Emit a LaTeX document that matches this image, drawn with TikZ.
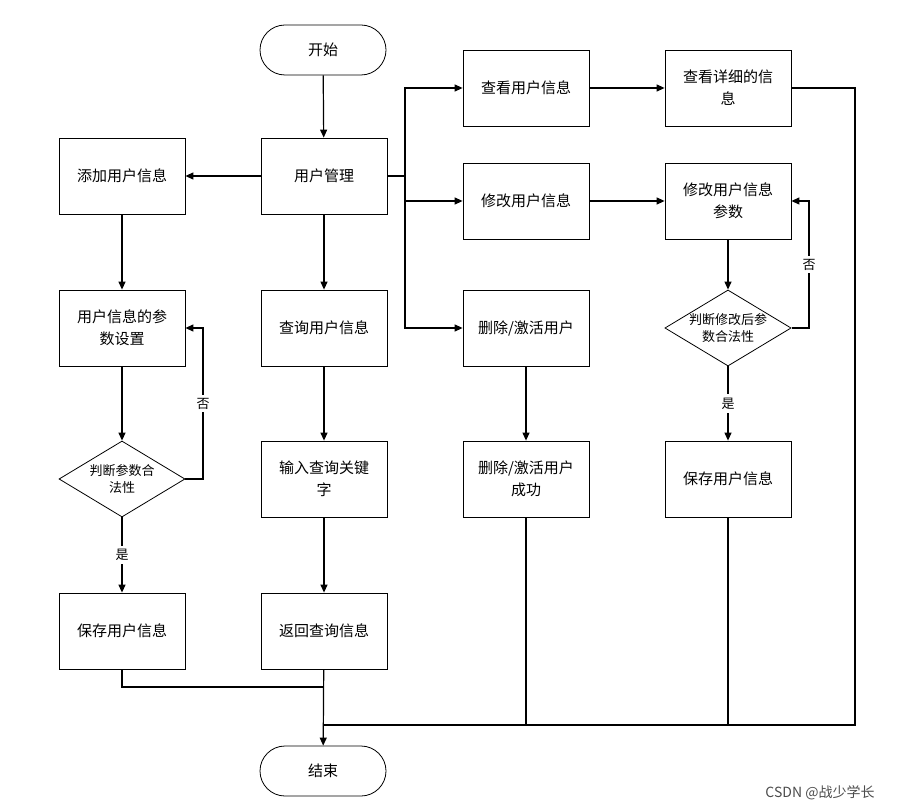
\documentclass[tikz,border=0pt]{standalone}
\usepackage{fontspec}
\setmainfont{Noto Sans CJK SC}
\usetikzlibrary{shapes.geometric,arrows.meta}
\begin{document}
\begin{tikzpicture}[x=1pt,y=-1pt,
  box/.style={draw,line width=0.8pt,minimum width=126pt,minimum height=76pt,align=center,font=\fontsize{15}{22}\selectfont},
  term/.style={draw,line width=0.8pt,rounded corners=25pt,minimum width=126pt,minimum height=50pt,font=\fontsize{15}{22}\selectfont},
  dia/.style={draw,line width=0.8pt,diamond,aspect=1.66,minimum width=126pt,minimum height=76pt,inner sep=0pt,align=center,font=\fontsize{13}{17}\selectfont},
  ln/.style={line width=1.2pt},
  ar/.style={ln,-{Triangle[length=8pt,width=7pt]}},
  lab/.style={font=\fontsize{13}{15}\selectfont}]
\useasboundingbox (0,0) rectangle (899,810);
\node[term] (start) at (323,50) {开始};
\node[box] (um) at (324,176) {用户管理};
\node[box] (add) at (122,176) {添加用户信息};
\node[box] (param) at (122,328) {用户信息的参\\数设置};
\node[dia] (d1) at (122,479) {判断参数合\\法性};
\node[box] (saveL) at (122,631) {保存用户信息};
\node[box] (query) at (324,328) {查询用户信息};
\node[box] (input) at (324,479) {输入查询关键\\字};
\node[box] (ret) at (324,631) {返回查询信息};
\node[box] (view) at (526,88) {查看用户信息};
\node[box] (detail) at (728,88) {查看详细的信\\息};
\node[box] (mod) at (526,201) {修改用户信息};
\node[box] (modp) at (728,201) {修改用户信息\\参数};
\node[box] (del) at (526,328) {删除/激活用户};
\node[dia] (d2) at (728,328) {判断修改后参\\数合法性};
\node[box] (delok) at (526,479) {删除/激活用户\\成功};
\node[box] (saveR) at (728,479) {保存用户信息};
\node[term] (end) at (323,771) {结束};
\coordinate (m) at (323,725);
\coordinate (split) at (405,176);

\draw[ar] (start) -- (um);
\draw[ar] (um) -- (add);
\draw[ar] (um) -- (query);
\draw[ar] (add) -- (param);
\draw[ar] (param) -- (d1);
\draw[ar] (d1) -- node[lab,fill=white]{是} (saveL);
\draw[ar] (d1.east) -- (203,479) -- node[lab,fill=white]{否} (203,328) -- (param.east);
\draw[ar] (query) -- (input);
\draw[ar] (input) -- (ret);
\draw[ln] (um.east) -- (split);
\draw[ar] (split) |- (view.west);
\draw[ar] (split) |- (mod.west);
\draw[ar] (split) |- (del.west);
\draw[ar] (view) -- (detail);
\draw[ar] (mod) -- (modp);
\draw[ar] (modp) -- (d2);
\draw[ar] (d2) -- node[lab,fill=white]{是} (saveR);
\draw[ar] (d2.east) -- (809,328) -- node[lab,fill=white]{否} (809,201) -- (modp.east);
\draw[ar] (del) -- (delok);
\draw[ln] (saveL.south) -- (122,687) -- (323,687);
\draw[ar] (ret) -- (end);
\draw[ln] (m) -- (855,725) |- (detail.east);
\draw[ln] (delok.south) -- (526,725);
\draw[ln] (saveR.south) -- (728,725);
\node[font=\fontsize{14}{16}\selectfont,text=black!70] (wm) at (820,793) {CSDN @战少学长};
\end{tikzpicture}
\end{document}
